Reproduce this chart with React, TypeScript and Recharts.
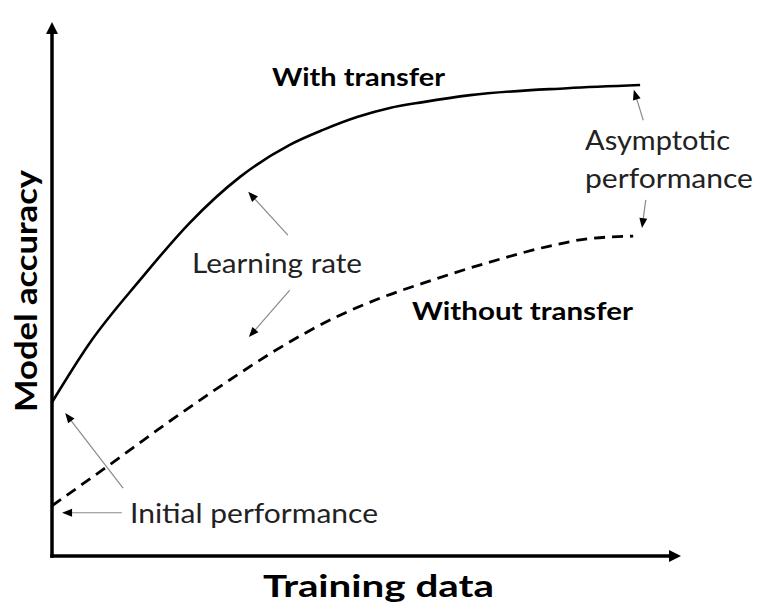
import React from 'react';
import { LineChart, Line, XAxis, YAxis, ReferenceLine } from 'recharts';

// Training data (x) and model accuracy (y), in percent of the axis lengths
const withTransferX = [0, 6.0, 14.0, 21.9, 29.9, 37.8, 43.1, 48.5, 53.7, 59.0, 66.5, 81.9, 93.5];
const withTransferY = [28.8, 39.9, 51.7, 62.4, 71.0, 77.0, 79.8, 82.2, 83.9, 85.0, 86.3, 87.6, 88.2];

const withoutTransferX = [0, 8.7, 18.3, 28.3, 35.1, 45.8, 52.2, 59.0, 69.2, 79.7, 85.1, 92.4];
const withoutTransferY = [9.4, 16.7, 24.9, 33.0, 38.2, 45.1, 48.3, 51.1, 54.9, 58.2, 59.4, 59.9];

const withTransferData = withTransferX.map((x, i) => ({ x, y: withTransferY[i] }));
const withoutTransferData = withoutTransferX.map((x, i) => ({ x, y: withoutTransferY[i] }));

// Annotation arrows: [tail, head] in data units
const annotationArrows = [
  [{ x: 37.5, y: 60.1 }, { x: 31.2, y: 68.2 }],
  [{ x: 37.8, y: 49.8 }, { x: 31.3, y: 41.0 }],
  [{ x: 11.3, y: 12.7 }, { x: 2.1, y: 26.8 }],
  [{ x: 11.1, y: 8.1 }, { x: 1.6, y: 8.1 }],
  [{ x: 94.0, y: 81.6 }, { x: 92.5, y: 87.3 }],
  [{ x: 94.4, y: 66.7 }, { x: 93.8, y: 61.4 }],
];

const axisSegments = [
  [{ x: 0, y: 0 }, { x: 0, y: 100 }],
  [{ x: 0, y: 0 }, { x: 100, y: 0 }],
];

function makeArrow(color: string, width: number, headColor: string, headLen: number, headW: number, cap: string) {
  return (p: any) => {
    const { x1, y1, x2, y2 } = p;
    const dx = x2 - x1;
    const dy = y2 - y1;
    const L = Math.hypot(dx, dy) || 1;
    const ux = dx / L;
    const uy = dy / L;
    const bx = x2 - ux * headLen;
    const by = y2 - uy * headLen;
    const px = (-uy * headW) / 2;
    const py = (ux * headW) / 2;
    return (
      <g>
        <line x1={x1} y1={y1} x2={bx + ux} y2={by + uy} stroke={color} strokeWidth={width} strokeLinecap={cap as any} />
        <polygon points={`${x2},${y2} ${bx + px},${by + py} ${bx - px},${by - py}`} fill={headColor} />
      </g>
    );
  };
}

const axisArrow = makeArrow('#000', 3.5, '#000', 12, 12, 'square');
const noteArrow = makeArrow('#8a8a8a', 1.2, '#000', 10, 8, 'butt');

const FONT = 'Lato, "Open Sans", sans-serif';

export default function App() {
  return (
    <div style={{ position: 'relative', width: 760, height: 605 }}>
      <LineChart
        width={760}
        height={605}
        margin={{ top: 14, right: 87, bottom: 57, left: 44 }}
      >
        <XAxis dataKey="x" type="number" domain={[0, 100]} hide allowDataOverflow />
        <YAxis dataKey="y" type="number" domain={[0, 100]} hide allowDataOverflow />
        {axisSegments.map((s, i) => (
          <ReferenceLine key={'ax' + i} segment={s} ifOverflow="visible" shape={axisArrow} />
        ))}
        {annotationArrows.map((s, i) => (
          <ReferenceLine key={'an' + i} segment={s} ifOverflow="visible" shape={noteArrow} />
        ))}
        <Line
          data={withTransferData}
          dataKey="y"
          type="monotone"
          stroke="#000"
          strokeWidth={2.6}
          dot={false}
          isAnimationActive={false}
        />
        <Line
          data={withoutTransferData}
          dataKey="y"
          type="monotone"
          stroke="#000"
          strokeWidth={2.8}
          strokeDasharray="11 7"
          dot={false}
          isAnimationActive={false}
        />
      </LineChart>
      <svg
        width={768}
        height={613}
        style={{ position: 'absolute', left: -8, top: -8, pointerEvents: 'none', overflow: 'visible' }}
        fontFamily={FONT}
      >
        <text x={272} y={86} fontSize={25} fontWeight="bold" fill="#000" textLength={173} lengthAdjust="spacingAndGlyphs">With transfer</text>
        <text x={412} y={320} fontSize={25} fontWeight="bold" fill="#000" textLength={221} lengthAdjust="spacingAndGlyphs">Without transfer</text>
        <text x={192} y={273} fontSize={26} fill="#222" textLength={170} lengthAdjust="spacingAndGlyphs">Learning rate</text>
        <text x={130} y={523} fontSize={26} fill="#222" textLength={248} lengthAdjust="spacingAndGlyphs">Initial performance</text>
        <text x={585} y={150} fontSize={26} fill="#222" textLength={145} lengthAdjust="spacingAndGlyphs">Asymptotic</text>
        <text x={585} y={188} fontSize={26} fill="#222" textLength={168} lengthAdjust="spacingAndGlyphs">performance</text>
        <text x={263} y={597} fontSize={30} fontWeight="bold" fill="#000" textLength={231} lengthAdjust="spacingAndGlyphs">Training data</text>
        <text x={37} y={412} fontSize={31} fontWeight="bold" fill="#000" transform="rotate(-90 37 412)" textLength={242} lengthAdjust="spacingAndGlyphs">Model accuracy</text>
      </svg>
    </div>
  );
}
